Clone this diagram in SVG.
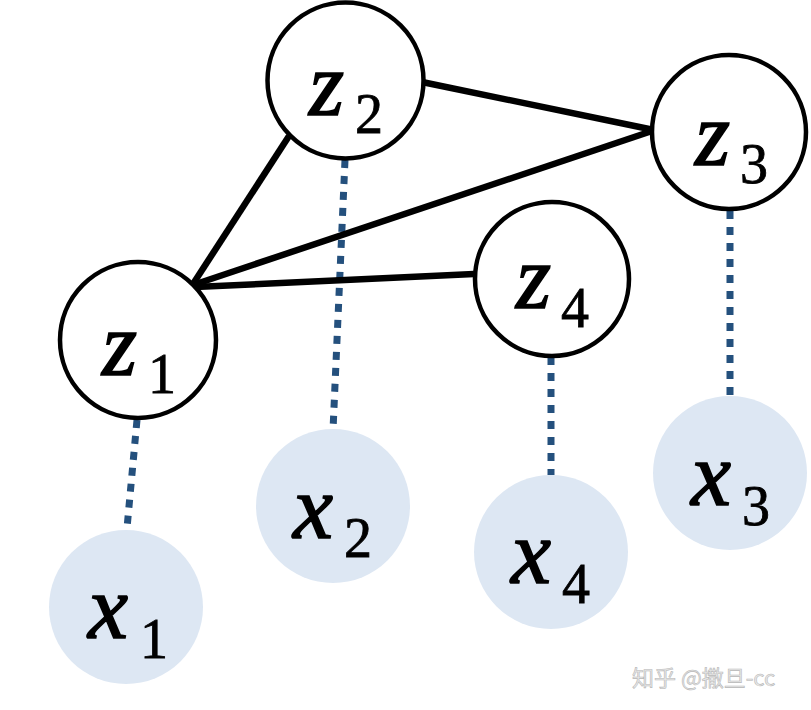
<svg xmlns="http://www.w3.org/2000/svg" width="811" height="710" viewBox="0 0 811 710">
<style>
.z{fill:#fff;stroke:#000;stroke-width:4.5}
.x{fill:#DDE7F3;stroke:none}
.v{font-family:"Liberation Serif","DejaVu Serif",serif;font-style:italic;font-size:90px;fill:#000;stroke:#000;stroke-width:1.6}
.s{font-family:"Liberation Serif","DejaVu Serif",serif;font-style:normal;font-size:56px;fill:#000;stroke:#000;stroke-width:0.8}
.e{stroke:#000;stroke-width:6.5;stroke-linecap:butt;fill:none}
.d{stroke:#24507D;stroke-width:7;stroke-dasharray:8 8;fill:none}
.w{font-family:"Noto Sans CJK SC","Liberation Sans",sans-serif;font-size:22px;fill:#e8e8e8;stroke:#b8b8b8;stroke-width:0.6}
</style>
<rect width="811" height="710" fill="#fff"/>
<g id="connectors">
<line class="d" x1="137" y1="420" x2="127" y2="528"/>
<line class="d" x1="345" y1="160" x2="333" y2="430"/>
<line class="d" x1="551" y1="357" x2="551" y2="475"/>
<line class="d" x1="730" y1="211" x2="730" y2="397"/>
<line class="e" x1="193" y1="284" x2="289" y2="136"/>
<line class="e" x1="193" y1="285" x2="655" y2="130"/>
<line class="e" x1="422" y1="82" x2="654" y2="130"/>
<line class="e" x1="195" y1="287" x2="474" y2="274"/>
</g>
<g id="z1"><circle class="z" cx="138" cy="340" r="78"/><text class="v" x="102" y="375">z</text><text class="s" x="148" y="393">1</text></g>
<g id="z2"><circle class="z" cx="345.5" cy="80.5" r="78"/><text class="v" x="309" y="115">z</text><text class="s" x="355" y="133">2</text></g>
<g id="z3"><circle class="z" cx="729" cy="132" r="77"/><text class="v" x="695" y="165">z</text><text class="s" x="740" y="183">3</text></g>
<g id="z4"><circle class="z" cx="552" cy="279" r="77"/><text class="v" x="516" y="308">z</text><text class="s" x="561" y="327">4</text></g>
<g id="x1"><circle class="x" cx="126" cy="607" r="77"/><text class="v" x="88" y="638">x</text><text class="s" x="140" y="658">1</text></g>
<g id="x2"><circle class="x" cx="333" cy="506" r="77"/><text class="v" x="293" y="538">x</text><text class="s" x="344" y="557">2</text></g>
<g id="x3"><circle class="x" cx="730" cy="473" r="77"/><text class="v" x="691" y="505">x</text><text class="s" x="742" y="525">3</text></g>
<g id="x4"><circle class="x" cx="551" cy="552" r="77"/><text class="v" x="511" y="583">x</text><text class="s" x="562" y="603">4</text></g>
<text class="w" x="632" y="686">知乎 @撒旦-cc</text>
</svg>
